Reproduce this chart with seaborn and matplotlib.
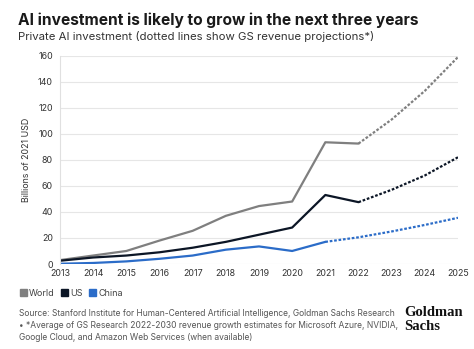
import matplotlib
matplotlib.use("Agg")
import matplotlib.pyplot as plt
import seaborn as sns
import pandas as pd
from matplotlib.patches import Patch

years = [2013, 2014, 2015, 2016, 2017, 2018, 2019, 2020, 2021, 2022, 2023, 2024, 2025]
world = [3, 6.5, 10, 18, 25.5, 37, 44.5, 48, 93.5, 92.5, 111, 133, 159]
us = [2.5, 5, 6.5, 9, 12.5, 17, 22.5, 28, 53, 47.5, 57, 68, 82]
china = [0.2, 0.8, 2, 4, 6.5, 11, 13.5, 10, 17, 20.5, 25, 30, 35.5]
series_names = ["World", "US", "China"]
proj_start = {"World": 2022, "US": 2022, "China": 2021}
colors = {"World": "#7f7f7f", "US": "#0c1626", "China": "#2b6cc8"}
yticks = [0, 20, 40, 60, 80, 100, 120, 140, 160]

title = "AI investment is likely to grow in the next three years"
subtitle = "Private AI investment (dotted lines show GS revenue projections*)"
ylabel = "Billions of 2021 USD"
footer = ["Source: Stanford Institute for Human-Centered Artificial Intelligence, Goldman Sachs Research",
          "• *Average of GS Research 2022-2030 revenue growth estimates for Microsoft Azure, NVIDIA,",
          "Google Cloud, and Amazon Web Services (when available)"]

sns.set_theme(style="white")
plt.rcParams["font.family"] = ["Inter", "DejaVu Sans"]

rows = []
for name, vals in zip(series_names, [world, us, china]):
    for y, v in zip(years, vals):
        rows.append({"year": y, "value": v, "series": name})
df = pd.DataFrame(rows)

fig = plt.figure(figsize=(4.74, 3.49), dpi=100)
ax = fig.add_axes([60 / 474, 1 - 264 / 349, 398 / 474, (264 - 55.7) / 349])

for name in series_names:
    d = df[df.series == name]
    hist = d[d.year <= proj_start[name]]
    proj = d[d.year >= proj_start[name]]
    sns.lineplot(data=hist, x="year", y="value", ax=ax, color=colors[name], lw=1.6, legend=False)
    sns.lineplot(data=proj, x="year", y="value", ax=ax, color=colors[name], lw=1.6,
                 linestyle=(0, (1.2, 0.8)), legend=False)

ax.set_xlim(2013, 2025)
ax.set_ylim(0, 160)
ax.set_yticks(yticks)
ax.set_xticks(years)
ax.grid(axis="y", color="#e6e6e6", lw=0.8)
ax.set_axisbelow(True)
for s in ["top", "right", "bottom"]:
    ax.spines[s].set_visible(False)
ax.spines["left"].set_color("#e0e0e0")
ax.spines["left"].set_linewidth(0.8)
ax.tick_params(axis="both", labelsize=6.4, colors="#333333", length=0)
ax.tick_params(axis="y", pad=5)
ax.tick_params(axis="x", pad=3.5)
ax.set_xlabel("")
ax.set_ylabel(ylabel, fontsize=6.4, color="#333333", labelpad=5)

fig.text(18 / 474, 1 - 20 / 349, title, fontsize=11.2, fontweight="bold", color="#1a1a1a", va="center")
fig.text(18 / 474, 1 - 37 / 349, subtitle, fontsize=8.2, color="#333333", va="center")

handles = [Patch(facecolor=colors[n], edgecolor=colors[n], label=n) for n in series_names]
fig.legend(handles=handles, loc="center left", bbox_to_anchor=(12 / 474, 1 - 293 / 349), ncol=3,
           frameon=False, fontsize=6.5, handlelength=0.8, handleheight=0.8, handletextpad=0.2,
           columnspacing=0.7, labelcolor="#444444")

for i, line in enumerate(footer):
    fig.text(19 / 474, 1 - (314 + 12 * i) / 349, line, fontsize=6.1, color="#555555", va="center")

fig.text(404 / 474, 1 - 312 / 349, "Goldman", fontsize=10.5, fontweight="bold", color="#111111",
         family="Liberation Serif", va="center")
fig.text(404 / 474, 1 - 326 / 349, "Sachs", fontsize=10.5, fontweight="bold", color="#111111",
         family="Liberation Serif", va="center")

fig.savefig("out.png", dpi=100)
